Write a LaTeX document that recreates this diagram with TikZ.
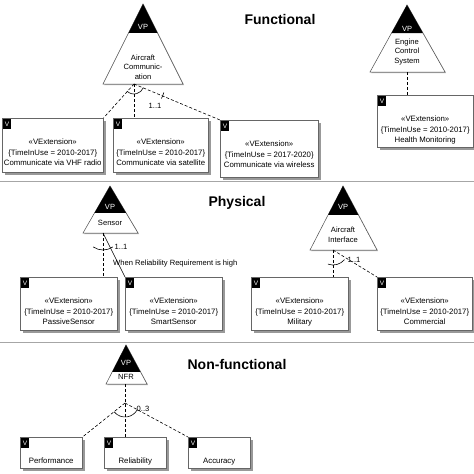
\documentclass[tikz,border=0pt]{standalone}
\usepackage{fontspec}
\setmainfont{Liberation Sans}
\usetikzlibrary{positioning,calc,shadows}

\tikzset{
  vbox/.style={draw=black!60,fill=white,line width=0.5pt,anchor=north west,inner sep=0pt,
    minimum width=97pt,minimum height=53pt,
    drop shadow={shadow xshift=2.5pt,shadow yshift=-2.5pt,fill=black!40,opacity=1}},
  vmark/.style={fill=black,text=white,font=\fontsize{6.5}{7}\selectfont,
    minimum width=8pt,minimum height=10pt,inner sep=0pt},
  vtext/.style={align=center,inner sep=0pt,font=\fontsize{7.8}{10.5}\selectfont},
  vptri/.style={draw=black!70,fill=white,line width=0.5pt,
    drop shadow={shadow xshift=1.2pt,shadow yshift=-1.2pt,fill=black!30,opacity=1}},
  vplabel/.style={text=white,inner sep=0pt,font=\fontsize{7.5}{8}\selectfont},
  tritext/.style={align=center,inner sep=0pt,font=\fontsize{7.6}{9.7}\selectfont},
  dep/.style={line width=0.6pt,dash pattern=on 3pt off 2pt},
  grp/.style={line width=0.6pt},
  mult/.style={inner sep=0pt,font=\fontsize{7.6}{9}\selectfont},
  section/.style={font=\fontsize{14}{16}\selectfont\bfseries},
  rule/.style={draw=black!35,line width=1pt}
}

\begin{document}
\begin{tikzpicture}[x=1pt,y=1pt]
    \useasboundingbox (0,0) rectangle (474,-474);

    % section rules and titles
    \draw[rule] (0,-181) -- (474,-181);
    \draw[rule] (0,-342) -- (474,-342);
    \path
        node[section] (func) at (280,-19) {Functional}
        node[section] (phys) at (237,-203) {Physical}
        node[section] (nonf) at (237,-364) {Non-functional};

    % variation points
    \coordinate (aca) at (143,-4);   \coordinate (acl) at (103,-84);  \coordinate (acr) at (183,-84);
    \coordinate (eca) at (407,-5);   \coordinate (ecl) at (370,-72);  \coordinate (ecr) at (445,-72);
    \coordinate (sna) at (110,-186); \coordinate (snl) at (83,-233);  \coordinate (snr) at (138,-233);
    \coordinate (aia) at (343,-186); \coordinate (ail) at (310,-250); \coordinate (air) at (377,-250);
    \coordinate (nfa) at (126,-345); \coordinate (nfl) at (106,-384); \coordinate (nfr) at (147,-384);

    \draw[vptri] (aca) -- (acl) -- (acr) -- cycle;
    \fill ($(aca)!.36!(acl)$) -- (aca) -- ($(aca)!.36!(acr)$) -- cycle;
    \draw[vptri] (eca) -- (ecl) -- (ecr) -- cycle;
    \fill ($(eca)!.42!(ecl)$) -- (eca) -- ($(eca)!.42!(ecr)$) -- cycle;
    \draw[vptri] (sna) -- (snl) -- (snr) -- cycle;
    \fill ($(sna)!.57!(snl)$) -- (sna) -- ($(sna)!.57!(snr)$) -- cycle;
    \draw[vptri] (aia) -- (ail) -- (air) -- cycle;
    \fill ($(aia)!.45!(ail)$) -- (aia) -- ($(aia)!.45!(air)$) -- cycle;
    \draw[vptri] (nfa) -- (nfl) -- (nfr) -- cycle;
    \fill ($(nfa)!.69!(nfl)$) -- (nfa) -- ($(nfa)!.69!(nfr)$) -- cycle;

    \path
        node[vplabel] (acvp) at (143,-27) {VP}
        node[tritext] (act) at (143,-67) {Aircraft\\Communic-\\ation}
        node[vplabel] (ecvp) at (407,-29) {VP}
        node[tritext] (ect) at (407,-52) {Engine\\Control\\System}
        node[vplabel] (snvp) at (110,-207) {VP}
        node[tritext] (snt) at (110,-223) {Sensor}
        node[vplabel] (aivp) at (343,-207) {VP}
        node[tritext] (ait) at (343,-234.5) {Aircraft\\Interface}
        node[vplabel] (nfvp) at (126,-363) {VP}
        node[tritext] (nft) at (126,-377) {NFR};

    % variants
    \path
        node[vbox,minimum width=101pt,minimum height=54pt] (vhf) at (2,-118) {}
        node[vbox,minimum width=95pt,minimum height=54pt] (sat) at (113,-118) {}
        node[vbox,minimum width=98pt,minimum height=57pt] (wir) at (220,-120) {}
        node[vbox,minimum width=96pt,minimum height=52pt] (hm) at (377,-95) {}
        node[vbox] (ps) at (20,-277) {}
        node[vbox] (ss) at (125,-277) {}
        node[vbox] (mil) at (251,-277) {}
        node[vbox,minimum width=95pt] (com) at (377,-277) {}
        node[vbox,minimum width=62pt,minimum height=31pt] (perf) at (20,-437) {}
        node[vbox,minimum width=62pt,minimum height=31pt] (rel) at (104,-437) {}
        node[vbox,minimum width=62pt,minimum height=31pt] (acc) at (188,-437) {};

    \foreach \b in {vhf,sat,wir,hm,ps,ss,mil,com,perf,rel,acc}
        \node[vmark,below right=0.8pt and 0.8pt of \b.north west] (\b-v) {V};

    \path
        node[vtext,below=21pt of vhf.north] (vhf-t) {«VExtension»\\\{TimeInUse = 2010-2017\}\\Communicate via VHF radio}
        node[vtext,below=21pt of sat.north] (sat-t) {«VExtension»\\\{TimeInUse = 2010-2017\}\\Communicate via satellite}
        node[vtext,below=21pt of wir.north] (wir-t) {«VExtension»\\\{TimeInUse = 2017-2020\}\\Communicate via wireless}
        node[vtext,below=21pt of hm.north] (hm-t) {«VExtension»\\\{TimeInUse = 2010-2017\}\\Health Monitoring}
        node[vtext,below=21pt of ps.north] (ps-t) {«VExtension»\\\{TimeInUse = 2010-2017\}\\PassiveSensor}
        node[vtext,below=21pt of ss.north] (ss-t) {«VExtension»\\\{TimeInUse = 2010-2017\}\\SmartSensor}
        node[vtext,below=21pt of mil.north] (mil-t) {«VExtension»\\\{TimeInUse = 2010-2017\}\\Military}
        node[vtext,below=21pt of com.north] (com-t) {«VExtension»\\\{TimeInUse = 2010-2017\}\\Commercial}
        node[vtext,below=21pt of perf.north] (perf-t) {Performance}
        node[vtext,below=21pt of rel.north] (rel-t) {Reliability}
        node[vtext,below=21pt of acc.north] (acc-t) {Accuracy};

    % dependencies
    \coordinate (acj) at (134,-84);
    \coordinate (ecj) at (407,-72);
    \coordinate (snj) at (103,-233);
    \coordinate (aij) at (333,-250);
    \coordinate (nfb) at (125,-384);
    \coordinate (nfj) at (125,-403);

    \draw[dep] (acj) -- (vhf.north east);
    \draw[dep] (acj) -- (acj |- sat.north);
    \draw[dep] (acj) -- (wir.north west);
    \draw[grp] (acj) ++(226:10) arc[start angle=226,end angle=338,radius=10];
    \draw[grp] (acj) ++(-28:31) arc[start angle=-28,end angle=-16,radius=31];
    \node[mult] (acm) at (155,-106) {1..1};

    \draw[dep] (ecj) -- (ecj |- hm.north);

    \draw[dep] (snj) -- (snj |- ps.north);
    \draw[grp] (snj) -- (ss.north west);
    \draw[grp] (snj) ++(235:17) arc[start angle=235,end angle=305,radius=17];
    \node[mult] (snm) at (121,-247) {1..1};
    \node[mult,anchor=west] (sncond) at (113,-264) {When Reliability Requirement is high};

    \draw[dep] (aij) -- (aij |- mil.north);
    \draw[dep] (aij) -- (com.north west);
    \draw[grp] (aij) ++(250:15) arc[start angle=250,end angle=320,radius=15];
    \node[mult] (aim) at (354,-260) {1..1};

    \draw[dep] (nfb) -- (nfb |- rel.north);
    \draw[dep] (nfj) -- (perf.north east);
    \draw[dep] (nfj) -- (acc.north west);
    \draw[grp] (nfj) ++(219:14) arc[start angle=219,end angle=332,radius=14];
    \node[mult] (nfm) at (143,-409) {0..3};
\end{tikzpicture}
\end{document}
